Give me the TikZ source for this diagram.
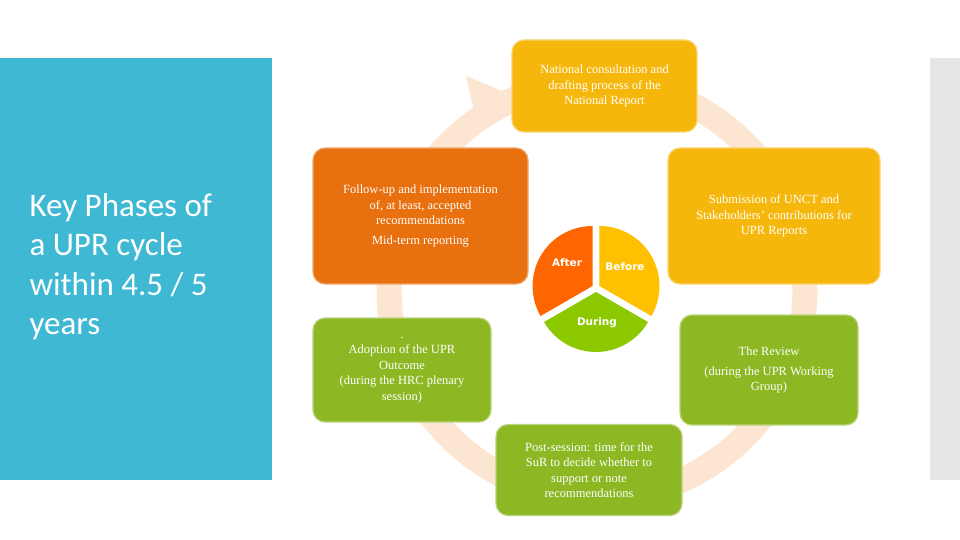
\documentclass[tikz,border=0pt]{standalone}
\usepackage{fontspec}
\setmainfont{Liberation Serif}
\newfontfamily\titlefont{Carlito}
\newfontfamily\pief{DejaVu Sans}
\definecolor{amber}{HTML}{F6B70C}
\definecolor{orng}{HTML}{E8700F}
\definecolor{grn}{HTML}{8DB824}
\definecolor{ring}{HTML}{FCE6D2}
\definecolor{blu}{HTML}{3FB8D3}
\definecolor{pa}{HTML}{FF6600}
\definecolor{pb}{HTML}{FFC000}
\definecolor{pd}{HTML}{8CC800}
\tikzset{
 box/.style={rounded corners=12pt, draw=#1!60!white, line width=1.2pt, fill=#1, text=white, align=center, font=\fontsize{12.5}{15.5}\selectfont, inner sep=2pt},
 plab/.style={text=white, font=\pief\bfseries\fontsize{10.5}{12}\selectfont}
}
\begin{document}
\begin{tikzpicture}[x=1pt,y=-1pt]
\useasboundingbox (0,0) rectangle (960,540);
\fill[white] (0,0) rectangle (960,540);
\fill[blu] (0,58) rectangle (272,480);
\fill[gray!20] (930,58) rectangle (960,480);
\node[anchor=north west, text=white, align=left, font=\titlefont\fontsize{33}{39.5}\selectfont] (title) at (26,190) {Key Phases of\\a UPR cycle\\within 4.5 / 5\\years};
% ring
\draw[ring, line width=25pt] (597,290) circle (208);
\fill[ring] (466,76) -- (507,93) -- (476,120) -- cycle;
% boxes
\node[box=amber, minimum width=185pt, minimum height=92pt] (top) at (604.5,86) {National consultation and\\drafting process of the\\National Report};
\node[box=amber, minimum width=212pt, minimum height=136pt] (tr) at (774,216) {Submission of UNCT and\\Stakeholders' contributions for\\UPR Reports};
\node[box=orng, minimum width=215pt, minimum height=136pt] (tl) at (420.5,216) {Follow-up and implementation\\of, at least, accepted\\recommendations\\[4pt]Mid-term reporting};
\node[box=grn, minimum width=178pt, minimum height=110pt] (rg) at (769,370) {The Review\\[4pt](during the UPR Working\\Group)};
\node[box=grn, minimum width=178pt, minimum height=104pt] (lg) at (402,370) {.\\Adoption of the UPR\\Outcome\\(during the HRC plenary\\session)};
\node[box=grn, minimum width=186pt, minimum height=91pt] (bg) at (589,470) {Post-session: time for the\\SuR to decide whether to\\support or note\\recommendations};
% pie
\begin{scope}[shift={(596,288)}, yscale=-1]
 \fill[pa] (150:4) -- +(210:60) arc[start angle=210,end angle=90,radius=60] -- cycle;
 \fill[pb] (30:4) -- +(90:60) arc[start angle=90,end angle=-30,radius=60] -- cycle;
 \fill[pd] (270:4) -- +(330:60) arc[start angle=330,end angle=210,radius=60] -- cycle;
 \node[plab] (after) at (-29,25) {After};
 \node[plab] (before) at (29,21) {Before};
 \node[plab] (during) at (1,-35) {During};
\end{scope}
\end{tikzpicture}
\end{document}
